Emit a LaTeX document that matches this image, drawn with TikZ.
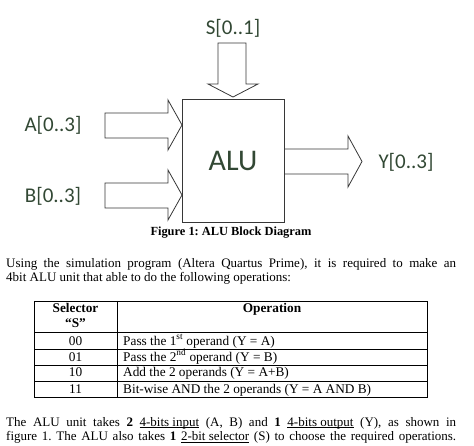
\documentclass[tikz,border=0pt]{standalone}
\usepackage{fontspec}
\setmainfont{Liberation Serif}
\newfontfamily\calib{Carlito}
\definecolor{lblgreen}{RGB}{50,72,52}
\definecolor{edgegray}{RGB}{55,55,55}
\newcommand\ulin[1]{\underline{\smash{#1}}}
\tikzset{
  bus/.style={draw=edgegray,line width=0.8pt,line join=miter},
  lbl/.style={text=lblgreen,font=\calib\fontsize{21}{21}\selectfont,inner sep=0},
  cell/.style={anchor=base,inner sep=0,font=\fontsize{13.3}{13.3}\selectfont},
  head/.style={cell,font=\bfseries\fontsize{13.3}{13.3}\selectfont},
  rule/.style={draw=black,line width=0.7pt}
}
\begin{document}
\frenchspacing
\begin{tikzpicture}[x=1pt,y=-1pt]
  \useasboundingbox (0,0) rectangle (474,446);
  % block
  \node[draw=edgegray,line width=0.8pt,minimum width=102pt,minimum height=123pt,inner sep=0,
        text=lblgreen,font=\calib\fontsize{30}{30}\selectfont] (alu) at (233,160.5) {ALU};
  % buses
  \draw[bus] (218,43)--(246,43)--(246,84)--(258,84)--(233,97)--(208,84)--(218,84)--cycle;
  \draw[bus] (105,113)--(168,113)--(168,100)--(182,125)--(168,150)--(168,138)--(105,138)--cycle;
  \draw[bus] (105,183)--(168,183)--(168,170)--(182,195)--(168,220)--(168,208)--(105,208)--cycle;
  \draw[bus] (284,149)--(348,149)--(348,136)--(362,161.5)--(348,187)--(348,174)--(284,174);
  \node[lbl] (sel) at (233,28) {S[0..1]};
  \node[lbl] (ina) at (53,125) {A[0..3]};
  \node[lbl] (inb) at (53,196) {B[0..3]};
  \node[lbl] (outy) at (406,162) {Y[0..3]};
  \node[font=\bfseries\fontsize{12.4}{12.4}\selectfont,inner sep=0,anchor=base] (cap) at (231,236)
    {Figure 1: ALU Block Diagram};
  % text above table
  \node[anchor=north west,inner sep=0,text width=450pt,align=justify,
        font=\fontsize{13}{13.8}\selectfont] (intro) at (6,258)
    {Using the simulation program (Altera Quartus Prime), it is required to make an\linebreak
     4bit ALU unit that able to do the following operations:};
  % table
  \draw[rule] (34,301) rectangle (427,397);
  \draw[rule] (117,301)--(117,397);
  \foreach \y in {332,349,365,381} \draw[rule] (34,\y)--(427,\y);
  \node[head] (hsel) at (75.5,313) {Selector};
  \node[head] (hs) at (75.5,327) {“S”};
  \node[head] (hop) at (272,313) {Operation};
  \foreach \code/\yb in {00/345,01/361,10/377,11/393}
    \node[cell] (c\code) at (75.5,\yb) {\code};
  \node[cell,anchor=base west] (op1) at (123,345) {Pass the 1\textsuperscript{st} operand (Y = A)};
  \node[cell,anchor=base west] (op2) at (123,361) {Pass the 2\textsuperscript{nd} operand (Y = B)};
  \node[cell,anchor=base west] (op3) at (123,377) {Add the 2 operands (Y = A+B)};
  \node[cell,anchor=base west] (op4) at (123,393) {Bit-wise AND the 2 operands (Y = A AND B)};
  % text below table
  \node[anchor=north west,inner sep=0,text width=450pt,align=justify,
        font=\fontsize{13}{14.5}\selectfont] (outro) at (6,417)
    {The ALU unit takes \textbf{2} \ulin{4-bits input} (A, B) and \textbf{1} \ulin{4-bits output} (Y), as shown in\linebreak
     figure 1. The ALU also takes \textbf{1} \ulin{2-bit selector} (S) to choose the required operations.\parfillskip=0pt\par};
\end{tikzpicture}
\end{document}
